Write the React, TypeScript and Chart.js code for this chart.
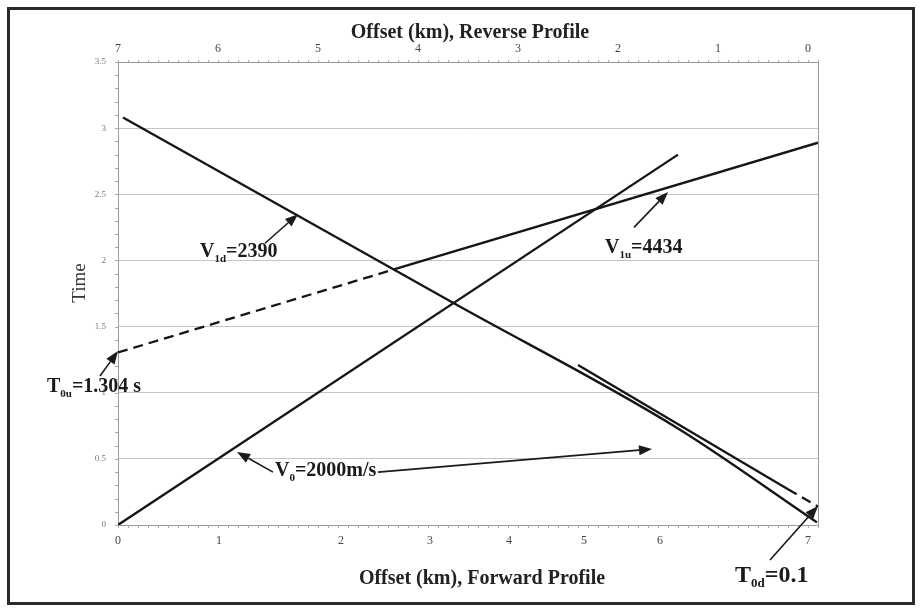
import React, { useEffect, useRef } from "react";
import { Chart, registerables } from "chart.js";
Chart.register(...registerables);

// ---- data (km, s) ----
const directX = [0, 5.6];
const directT = [0, 2.8];
const reverseX = [0.05, 3.35, 5.6, 6.99];
const reverseT = [3.08, 1.68, 0.73, 0.02];
const upDashX = [0, 2.75];
const upDashT = [1.304, 1.93];
const upSolidX = [2.75, 7.0];
const upSolidT = [1.93, 2.89];
const fitSolidX = [4.6, 6.7];
const fitSolidT = [1.21, 0.27];
const fitDashX = [6.7, 7.0];
const fitDashT = [0.27, 0.14];

const forwardTickLabels = ["0", "1", "2", "3", "4", "5", "6", "7"];
const forwardTickPositions = [0, 1.01, 2.23, 3.12, 3.91, 4.66, 5.42, 6.9];
const reverseTickLabels = ["7", "6", "5", "4", "3", "2", "1", "0"];
const reverseTickPositions = [7, 6, 5, 4, 3, 2, 1, 0.1];
const timeTicks = [0, 0.5, 1, 1.5, 2, 2.5, 3, 3.5];

const topTitle = "Offset (km), Reverse Profile";
const bottomTitle = "Offset (km), Forward Profile";
const yTitle = "Time";

type Ann = { main: string; sub: string; rest: string; x: number; y: number; size: number; arrows: number[][] };
const annotations: Ann[] = [
  { main: "V", sub: "1d", rest: "=2390", x: 0.82, y: 2.026, size: 20, arrows: [[1.47, 2.13, 1.8, 2.35]] },
  { main: "V", sub: "1u", rest: "=4434", x: 4.87, y: 2.056, size: 20, arrows: [[5.16, 2.25, 5.5, 2.517]] },
  { main: "T", sub: "0u", rest: "=1.304 s", x: -0.71, y: 1.005, size: 20, arrows: [[-0.18, 1.126, 0, 1.315]] },
  { main: "V", sub: "0", rest: "=2000m/s", x: 1.57, y: 0.37, size: 20, arrows: [[1.55, 0.4, 1.19, 0.552], [2.6, 0.4, 5.34, 0.574]] },
  { main: "T", sub: "0d", rest: "=0.1", x: 6.17, y: -0.43, size: 24, arrows: [[6.52, -0.265, 7.0, 0.144]] },
];

const SERIF = "'Liberation Serif', 'Times New Roman', serif";

const pts = (xs: number[], ts: number[]) => xs.map((x, i) => ({ x, y: ts[i] }));

function drawArrow(ctx: CanvasRenderingContext2D, x1: number, y1: number, x2: number, y2: number) {
  const ang = Math.atan2(y2 - y1, x2 - x1);
  const L = 13, W = 5;
  const bx = x2 - L * Math.cos(ang), by = y2 - L * Math.sin(ang);
  ctx.beginPath();
  ctx.moveTo(x1, y1);
  ctx.lineTo(bx, by);
  ctx.lineWidth = 1.6;
  ctx.strokeStyle = "#1a1a1a";
  ctx.stroke();
  ctx.beginPath();
  ctx.moveTo(x2, y2);
  ctx.lineTo(bx + W * Math.sin(ang), by - W * Math.cos(ang));
  ctx.lineTo(bx - W * Math.sin(ang), by + W * Math.cos(ang));
  ctx.closePath();
  ctx.fillStyle = "#1a1a1a";
  ctx.fill();
}

const decor = {
  id: "decor",
  beforeDraw(chart: any) {
    const ctx = chart.ctx as CanvasRenderingContext2D;
    ctx.save();
    ctx.fillStyle = "#fff";
    ctx.fillRect(0, 0, chart.width, chart.height);
    ctx.restore();
  },
  afterDraw(chart: any) {
    const ctx = chart.ctx as CanvasRenderingContext2D;
    const xs = chart.scales.x, ys = chart.scales.y;
    const { left, right, top, bottom } = chart.chartArea;
    ctx.save();
    // right axis line
    ctx.strokeStyle = "#9a9a9a";
    ctx.lineWidth = 1;
    ctx.beginPath();
    ctx.moveTo(right + 0.5, top);
    ctx.lineTo(right + 0.5, bottom);
    ctx.stroke();
    // minor ticks
    ctx.strokeStyle = "#aaa";
    ctx.beginPath();
    for (let v = 0; v <= 7.0001; v += 0.1) {
      const px = Math.round(xs.getPixelForValue(v)) + 0.5;
      ctx.moveTo(px, bottom);
      ctx.lineTo(px, bottom + 3);
      ctx.moveTo(px, top);
      ctx.lineTo(px, top - 2);
    }
    for (let v = 0; v <= 3.5001; v += 0.1) {
      const py = Math.round(ys.getPixelForValue(v)) + 0.5;
      ctx.moveTo(left, py);
      ctx.lineTo(left - 3, py);
    }
    ctx.stroke();
    // titles
    ctx.fillStyle = "#222";
    ctx.textAlign = "center";
    ctx.textBaseline = "alphabetic";
    ctx.font = `bold 20px ${SERIF}`;
    ctx.fillText(topTitle, 470, 38);
    ctx.fillText(bottomTitle, 482, 584);
    ctx.save();
    ctx.translate(85, 283);
    ctx.rotate(-Math.PI / 2);
    ctx.font = `19px ${SERIF}`;
    ctx.fillStyle = "#333";
    ctx.fillText(yTitle, 0, 0);
    ctx.restore();
    // annotations
    ctx.textAlign = "left";
    for (const a of annotations) {
      let px = xs.getPixelForValue(a.x);
      const py = ys.getPixelForValue(a.y);
      ctx.fillStyle = "#1a1a1a";
      ctx.font = `bold ${a.size}px ${SERIF}`;
      ctx.fillText(a.main, px, py);
      px += ctx.measureText(a.main).width;
      ctx.font = `bold ${Math.round(a.size * 0.55)}px ${SERIF}`;
      ctx.fillText(a.sub, px, py + 5);
      px += ctx.measureText(a.sub).width;
      ctx.font = `bold ${a.size}px ${SERIF}`;
      ctx.fillText(a.rest, px, py);
      for (const ar of a.arrows) {
        drawArrow(ctx, xs.getPixelForValue(ar[0]), ys.getPixelForValue(ar[1]), xs.getPixelForValue(ar[2]), ys.getPixelForValue(ar[3]));
      }
    }
    // outer frame
    ctx.strokeStyle = "#2a2a2a";
    ctx.lineWidth = 3;
    ctx.strokeRect(8.5, 8.5, 905, 595);
    ctx.restore();
  },
};

export default function App() {
  const ref = useRef<HTMLCanvasElement>(null);
  useEffect(() => {
    document.body.style.margin = "0";
    const line = (xs: number[], ts: number[], dashed: boolean, smooth = false) => ({
      data: pts(xs, ts),
      showLine: true,
      borderColor: "#151515",
      borderWidth: 2.3,
      borderDash: dashed ? [10, 6] : [],
      pointRadius: 0,
      fill: false,
      tension: smooth ? 0.4 : 0,
      cubicInterpolationMode: smooth ? "monotone" : "default",
      xAxisID: "x",
      yAxisID: "y",
    });
    const chart = new Chart(ref.current!, {
      type: "scatter",
      data: {
        datasets: [
          line(directX, directT, false),
          line(reverseX, reverseT, false, true),
          line(upDashX, upDashT, true),
          line(upSolidX, upSolidT, false),
          line(fitSolidX, fitSolidT, false),
          line(fitDashX, fitDashT, true),
        ] as any,
      },
      options: {
        animation: false,
        responsive: true,
        maintainAspectRatio: false,
        layout: { padding: { left: 0, right: 104, top: 0, bottom: 0 } },
        plugins: { legend: { display: false }, tooltip: { enabled: false } },
        scales: {
          x: {
            type: "linear",
            position: "bottom",
            min: 0,
            max: 7,
            afterFit: (s: any) => { s.height = 86; },
            afterBuildTicks: (s: any) => { s.ticks = forwardTickPositions.map((v) => ({ value: v })); },
            ticks: {
              autoSkip: false,
              maxRotation: 0,
              padding: 9,
              color: "#444",
              font: { family: SERIF, size: 12 },
              callback: (_v: any, i: number) => forwardTickLabels[i],
            },
            grid: { display: false, drawTicks: false },
            border: { display: true, color: "#9a9a9a" },
          },
          x2: {
            type: "linear",
            position: "top",
            reverse: true,
            min: 0,
            max: 7,
            afterFit: (s: any) => { s.height = 62; },
            afterBuildTicks: (s: any) => { s.ticks = reverseTickPositions.map((v) => ({ value: v })); },
            ticks: {
              autoSkip: false,
              maxRotation: 0,
              padding: 6,
              color: "#444",
              font: { family: SERIF, size: 12 },
              callback: (_v: any, i: number) => reverseTickLabels[i],
            },
            grid: { display: false, drawTicks: false },
            border: { display: true, color: "#9a9a9a" },
          },
          y: {
            type: "linear",
            min: 0,
            max: 3.5,
            afterFit: (s: any) => { s.width = 118; },
            afterBuildTicks: (s: any) => { s.ticks = timeTicks.map((v) => ({ value: v })); },
            ticks: {
              padding: 12,
              color: "#777",
              font: { family: SERIF, size: 9 },
              callback: (v: any) => String(v),
            },
            grid: { color: "#c4c4c4", lineWidth: 1, drawTicks: false },
            border: { display: true, color: "#9a9a9a" },
          },
        },
      } as any,
      plugins: [decor],
    });
    return () => chart.destroy();
  }, []);
  return (
    <div style={{ position: "relative", width: 922, height: 611 }}>
      <canvas ref={ref} />
    </div>
  );
}
